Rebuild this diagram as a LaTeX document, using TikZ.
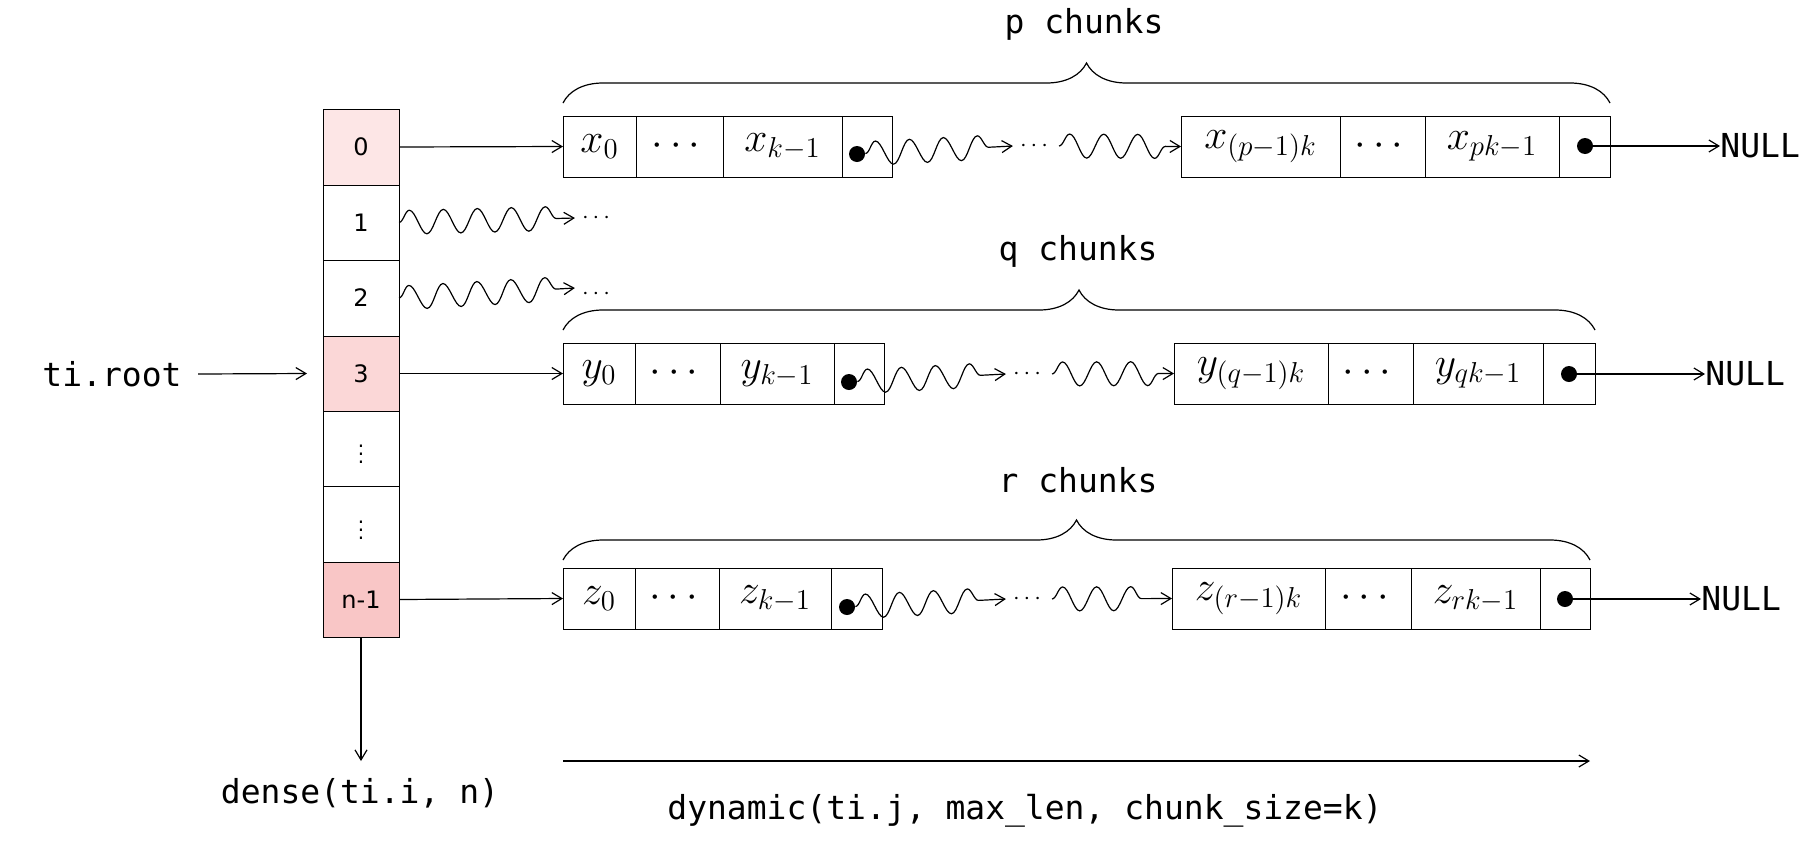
\documentclass[tikz,border=0pt]{standalone}
\usepackage{fontspec}
\setmainfont{DejaVu Sans}
\newfontfamily\mono{DejaVu Sans Mono}
\usepackage{amsmath}
\usetikzlibrary{decorations.pathmorphing,decorations.pathreplacing,arrows.meta}
\newcommand\cellbox[6]{%
  \draw[thin] (#2,#4) rectangle (#3,#5);
  \node[inner sep=0pt,font=\fontsize{20}{22}\selectfont] (#1) at ({(#2+#3)/2},{(#4+#5)/2}) {#6};
  \coordinate (#1w) at (#2,{(#4+#5)/2});
  \coordinate (#1e) at (#3,{(#4+#5)/2});}
\begin{document}
\begin{tikzpicture}[x=0.5pt,y=-0.5pt,
  arr/.style={-{Straight Barb[length=5pt,width=6pt]},line width=0.6pt},
  wav/.style={arr,decorate,decoration={snake,amplitude=6pt,segment length=17pt,post length=7pt}},
  dot/.style={circle,fill=black,inner sep=0pt,minimum size=8pt},
  lbl/.style={font=\mono\fontsize{16.5}{19}\selectfont},
  num/.style={font=\fontsize{12}{14}\selectfont}]
\useasboundingbox (0,0) rectangle (1803,852);
% array
\definecolor{pa}{HTML}{FDE6E6}\definecolor{pb}{HTML}{FBD7D7}\definecolor{pc}{HTML}{F9C6C6}
\fill[pa] (323,109) rectangle (399,185);
\fill[pb] (323,336) rectangle (399,411);
\fill[pc] (323,562) rectangle (399,637);
\cellbox{a0}{323}{399}{109}{185}{}
\cellbox{a1}{323}{399}{185}{260}{}
\cellbox{a2}{323}{399}{260}{336}{}
\cellbox{a3}{323}{399}{336}{411}{}
\cellbox{a4}{323}{399}{411}{486}{}
\cellbox{a5}{323}{399}{486}{562}{}
\cellbox{a6}{323}{399}{562}{637}{}
\node[num] at (a0) {0};\node[num] at (a1) {1};\node[num] at (a2) {2};\node[num] at (a3) {3};\node[num] at (a6) {n-1};
\node at (a4) {$\vdots$};\node at (a5) {$\vdots$};
% row x
\cellbox{x1}{563}{636}{116}{177}{$x_0$}
\cellbox{x2}{636}{723}{116}{177}{$\cdots$}
\cellbox{x3}{723}{842}{116}{177}{$x_{k-1}$}
\cellbox{x4}{842}{892}{116}{177}{}
\cellbox{x5}{1181}{1340}{116}{177}{$x_{(p-1)k}$}
\cellbox{x6}{1340}{1425}{116}{177}{$\cdots$}
\cellbox{x7}{1425}{1559}{116}{177}{$x_{pk-1}$}
\cellbox{x8}{1559}{1610}{116}{177}{}
% row y
\cellbox{y1}{563}{635}{343}{404}{$y_0$}
\cellbox{y2}{635}{720}{343}{404}{$\cdots$}
\cellbox{y3}{720}{834}{343}{404}{$y_{k-1}$}
\cellbox{y4}{834}{884}{343}{404}{}
\cellbox{y5}{1174}{1328}{343}{404}{$y_{(q-1)k}$}
\cellbox{y6}{1328}{1413}{343}{404}{$\cdots$}
\cellbox{y7}{1413}{1543}{343}{404}{$y_{qk-1}$}
\cellbox{y8}{1543}{1595}{343}{404}{}
% row z
\cellbox{z1}{563}{635}{568}{629}{$z_0$}
\cellbox{z2}{635}{719}{568}{629}{$\cdots$}
\cellbox{z3}{719}{831}{568}{629}{$z_{k-1}$}
\cellbox{z4}{831}{882}{568}{629}{}
\cellbox{z5}{1172}{1325}{568}{629}{$z_{(r-1)k}$}
\cellbox{z6}{1325}{1411}{568}{629}{$\cdots$}
\cellbox{z7}{1411}{1540}{568}{629}{$z_{rk-1}$}
\cellbox{z8}{1540}{1590}{568}{629}{}
% dots in last cells
\node[dot] (xd1) at (857,154) {};
\node[dot] (xd2) at (1585,146) {};
\node[dot] (yd1) at (849,382) {};
\node[dot] (yd2) at (1569,374) {};
\node[dot] (zd1) at (847,607) {};
\node[dot] (zd2) at (1565,599) {};
% ellipses
\node[font=\large] (xe) at (1036,146) {$\cdots$};
\node[font=\large] (ye) at (1029,374) {$\cdots$};
\node[font=\large] (ze) at (1029,599) {$\cdots$};
\node[font=\large] (e1) at (598,218) {$\cdots$};
\node[font=\large] (e2) at (598,294) {$\cdots$};
% labels
\node[lbl,anchor=west,inner sep=0pt] (xn) at (1720,146) {NULL};
\node[lbl,anchor=west,inner sep=0pt] (yn) at (1705,374) {NULL};
\node[lbl,anchor=west,inner sep=0pt] (zn) at (1701,599) {NULL};
\node[lbl] (root) at (112,374) {ti.root};
% connectors
\draw[arr] (a0e) -- (x1w);
\draw[arr] (a3e) -- (y1w);
\draw[arr] (a6e) -- (z1w);
\draw[wav] (a1e) -- (e1.west);
\draw[wav] (a2e) -- ([yshift=3pt]e2.west);
\coordinate (rs) at (198,374);
\draw[arr] (rs) -- ([xshift=-8pt]a3w);
\draw[wav] (xd1) -- (xe.west);
\draw[wav] (xe.east) -- (x5w);
\draw[wav] (yd1) -- (ye.west);
\draw[wav] (ye.east) -- (y5w);
\draw[wav] (zd1) -- (ze.west);
\draw[wav] (ze.east) -- (z5w);
\draw[arr] (xd2) -- (xn.west);
\draw[arr] (yd2) -- (yn.west);
\draw[arr] (zd2) -- (zn.west);
% braces
\draw[line width=0.6pt,decorate,decoration={brace,amplitude=20pt}] (563,103) -- (1610,103);
\draw[line width=0.6pt,decorate,decoration={brace,amplitude=20pt}] (563,330) -- (1595,330);
\draw[line width=0.6pt,decorate,decoration={brace,amplitude=20pt}] (563,560) -- (1590,560);
\node[lbl] (pc) at (1084,24) {p chunks};
\node[lbl] (qc) at (1078,251) {q chunks};
\node[lbl] (rc) at (1078,480) {r chunks};
% bottom
\node[lbl] (dense) at (360,793) {dense(ti.i, n)};
\coordinate (ab) at (361,637);
\coordinate (abe) at (361,761);
\draw[arr] (ab) -- (abe);
\node[lbl] (dyn) at (1025,811) {dynamic(ti.j, max\_len, chunk\_size=k)};
\coordinate (d0) at (563,761);\coordinate (d1) at (1590,761);
\draw[arr] (d0) -- (d1);
\end{tikzpicture}
\end{document}
